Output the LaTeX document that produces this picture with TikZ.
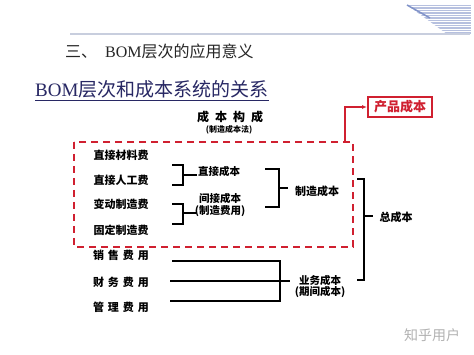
\documentclass[tikz,border=0pt]{standalone}
\usepackage{fontspec}
\setmainfont{Liberation Serif}
\newfontfamily\cjk{Noto Sans CJK SC}
\usetikzlibrary{calc,arrows.meta}
\definecolor{dred}{RGB}{208,32,48}
\definecolor{navy}{RGB}{40,40,100}
\definecolor{rulec}{RGB}{200,206,222}
\definecolor{stripe}{RGB}{150,165,210}
\begin{document}
\begin{tikzpicture}[x=1pt,y=-1pt,
  item/.style={font=\cjk\fontsize{11}{13}\selectfont\bfseries, inner sep=0pt},
  mid/.style={font=\cjk\fontsize{10.5}{12}\selectfont\bfseries, inner sep=0pt, align=center},
  brk/.style={line width=1.3pt, black},
  dashbox/.style={draw=dred, line width=2pt, dash pattern=on 7pt off 5pt},
  redbox/.style={draw=dred, line width=2pt, text=dred, font=\cjk\fontsize{13}{15}\selectfont\bfseries, inner xsep=6pt, inner ysep=4pt}]
\useasboundingbox (0,0) rectangle (474,355);
\fill[white] (0,0) rectangle (474,355);
% top decoration
\begin{scope}
\clip (407,5) -- (471,5) -- (471,34) -- (447,34) -- cycle;
\foreach \yy in {5.5,8,10.5,13,15.5,18,20.5,23,25.5,28,30.5,33} {
  \draw[stripe!70, line width=1.1pt] (400,\yy) -- (471,\yy);
}
\end{scope}
\draw[stripe!120, line width=1.5pt] (407,5) -- (430,18);
\draw[rulec, line width=1.5pt] (70,34) -- (470,34);
% titles
\node[anchor=base west, inner sep=0pt, font=\fontsize{16}{18}\selectfont, text=black!85] (title) at (65,58)
  {{\cjk 三、}\hspace{8pt}BOM{\cjk 层次的应用意义}};
\node[anchor=base west, inner sep=0pt, font=\fontsize{19}{21}\selectfont, text=navy] (sub) at (35,97)
  {BOM{\cjk 层次和成本系统的关系}};
\draw[navy, line width=0.9pt] ($(sub.base west)+(0,3)$) -- ($(sub.base east)+(0,3)$);
% heading
\node[font=\cjk\fontsize{12}{14}\selectfont\bfseries, inner sep=0pt] (head) at (230,117) {成\hspace{6pt}本\hspace{6pt}构\hspace{6pt}成};
\node[font=\cjk\fontsize{8}{9}\selectfont\bfseries, inner sep=0pt] (head2) at (229,130) {(制造成本法)};
% product cost box
\node[redbox] (prod) at (400,107) {产品成本};
\draw[dashbox] (74,142) rectangle (353,247);
\coordinate (up) at (345,141);
\draw[dred, line width=1.5pt, -{Latex[length=5pt,width=4pt]}] (up) |- (prod.west);
% items
\node[item] (i1) at (121,155) {直接材料费};
\node[item] (i2) at (121,180) {直接人工费};
\node[item] (i3) at (121,204) {变动制造费};
\node[item] (i4) at (121,230) {固定制造费};
% brackets
\draw[brk] (172,165) -- (183,165) -- (183,185) -- (172,185);
\draw[brk] (183,175) -- (197,175);
\node[mid] (dc) at (219,172) {直接成本};
\draw[brk] (172,204) -- (183,204) -- (183,224) -- (172,224);
\draw[brk] (183,213) -- (196,213);
\node[mid] (ic) at (220,199) {间接成本};
\node[mid] (ic2) at (220,211) {(制造费用)};
\draw[brk] (265,169) -- (279,169) -- (279,207) -- (265,207);
\draw[brk] (279,188) -- (288,188);
\node[item] (mc) at (317,191) {制造成本};
\draw[brk] (357,179) -- (364,179) -- (364,280) -- (357,280);
\draw[brk] (364,216) -- (373,216);
\node[item] (tc) at (396,217) {总成本};
% period costs
\node[item] (s1) at (121,255) {销\hspace{4pt}售\hspace{4pt}费\hspace{4pt}用};
\node[item] (s2) at (121,282) {财\hspace{4pt}务\hspace{4pt}费\hspace{4pt}用};
\node[item] (s3) at (121,307) {管\hspace{4pt}理\hspace{4pt}费\hspace{4pt}用};
\draw[brk] (172,261) -- (280,261) -- (280,301) -- (170,301);
\draw[brk] (170,281) -- (290,281);
\node[mid] (bc) at (320,281) {业务成本};
\node[mid] (bc2) at (320,292) {(期间成本)};
% watermark
\node[font=\cjk\fontsize{14}{16}\selectfont, text=black!30, inner sep=0pt] (wm) at (432,335) {知乎用户};
\end{tikzpicture}
\end{document}
